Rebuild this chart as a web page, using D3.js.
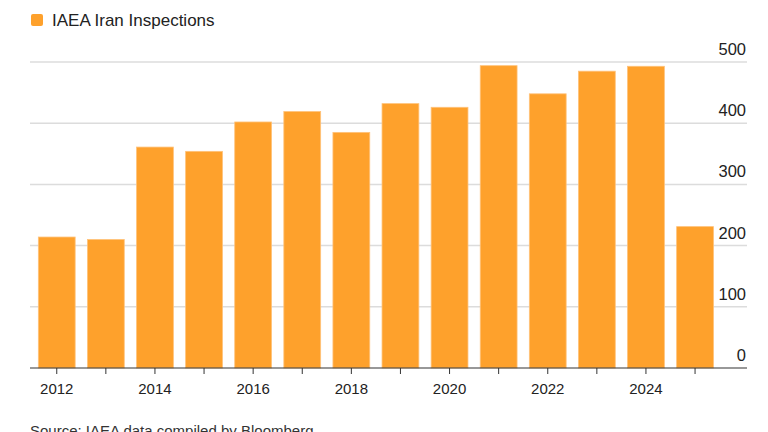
<!DOCTYPE html>
<html lang="en">
<head>
<meta charset="UTF-8"/>
<title>IAEA Iran Inspections</title>
<script src="https://d3js.org/d3.v7.min.js"></script>
<style>
  body { margin: 0; background: #fff; }
  text { font-family: "Liberation Sans", Arial, sans-serif; }
</style>
</head>
<body>
<script>
    // Data
    var years = [2012, 2013, 2014, 2015, 2016, 2017, 2018, 2019, 2020, 2021, 2022, 2023, 2024, 2025];
    var inspections = [214, 210, 361, 354, 402, 419, 385, 432, 426, 494, 448, 485, 493, 231];
    var yTicks = [0, 100, 200, 300, 400, 500];
    var xLabels = [2012, 2014, 2016, 2018, 2020, 2022, 2024];

    var w = 768, h = 432;
    var barColour = "#fea12c";

    var svg = d3.select("body")
        .append("svg")
        .attr("width", w)
        .attr("height", h);

    // Scales
    var x = d3.scaleBand()
        .domain(years)
        .range([32.2, 719.6])
        .paddingInner(0.25)
        .paddingOuter(0.125);

    var y = d3.scaleLinear()
        .domain([0, 500])
        .range([368, 62]);

    // Gridlines
    svg.selectAll("line.grid")
        .data(yTicks.filter(function(d) { return d > 0; }))
        .enter()
        .append("line")
        .attr("class", "grid")
        .attr("x1", 30)
        .attr("x2", 747)
        .attr("y1", function(d) { return y(d); })
        .attr("y2", function(d) { return y(d); })
        .attr("stroke", "#dcdcdc")
        .attr("stroke-width", 1.5);

    // Y labels on the right, sitting above each gridline
    svg.selectAll("text.ylab")
        .data(yTicks)
        .enter()
        .append("text")
        .attr("class", "ylab")
        .attr("x", 746)
        .attr("y", function(d) { return y(d) - 7; })
        .attr("text-anchor", "end")
        .attr("font-size", "16.5px")
        .attr("fill", "#222")
        .text(function(d) { return d; });

    // Bars
    svg.selectAll("rect.bar")
        .data(inspections)
        .enter()
        .append("rect")
        .attr("class", "bar")
        .attr("x", function(d, i) { return x(years[i]); })
        .attr("width", x.bandwidth())
        .attr("y", function(d) { return y(d); })
        .attr("height", function(d) { return y(0) - y(d); })
        .attr("fill", barColour)
        .attr("stroke", "#ffc27a")
        .attr("stroke-width", 0.8);

    // X axis
    var xAxis = d3.axisBottom(x)
        .tickSize(6)
        .tickFormat(function(d) { return xLabels.indexOf(d) >= 0 ? d : ""; });

    var gx = svg.append("g")
        .attr("transform", "translate(0," + y(0) + ")")
        .call(xAxis);

    gx.select(".domain").remove();
    gx.selectAll(".tick line").attr("stroke", "#333");
    gx.selectAll(".tick text")
        .attr("font-size", "15px")
        .attr("font-family", "Liberation Sans, Arial, sans-serif")
        .attr("fill", "#222")
        .attr("dy", "1.1em");

    svg.append("line")
        .attr("x1", 30)
        .attr("x2", 747)
        .attr("y1", y(0))
        .attr("y2", y(0))
        .attr("stroke", "#333")
        .attr("stroke-width", 1.2);

    // Legend / title
    svg.append("rect")
        .attr("x", 31)
        .attr("y", 14)
        .attr("width", 12)
        .attr("height", 12)
        .attr("rx", 2)
        .attr("fill", barColour);

    svg.append("text")
        .attr("x", 52)
        .attr("y", 26)
        .attr("font-size", "17px")
        .attr("fill", "#222")
        .text("IAEA Iran Inspections");

    // Source (sits at the bottom edge, as in the original)
    svg.append("text")
        .attr("x", 30)
        .attr("y", 436)
        .attr("font-size", "15px")
        .attr("fill", "#333")
        .text("Source: IAEA data compiled by Bloomberg");
</script>
</body>
</html>
